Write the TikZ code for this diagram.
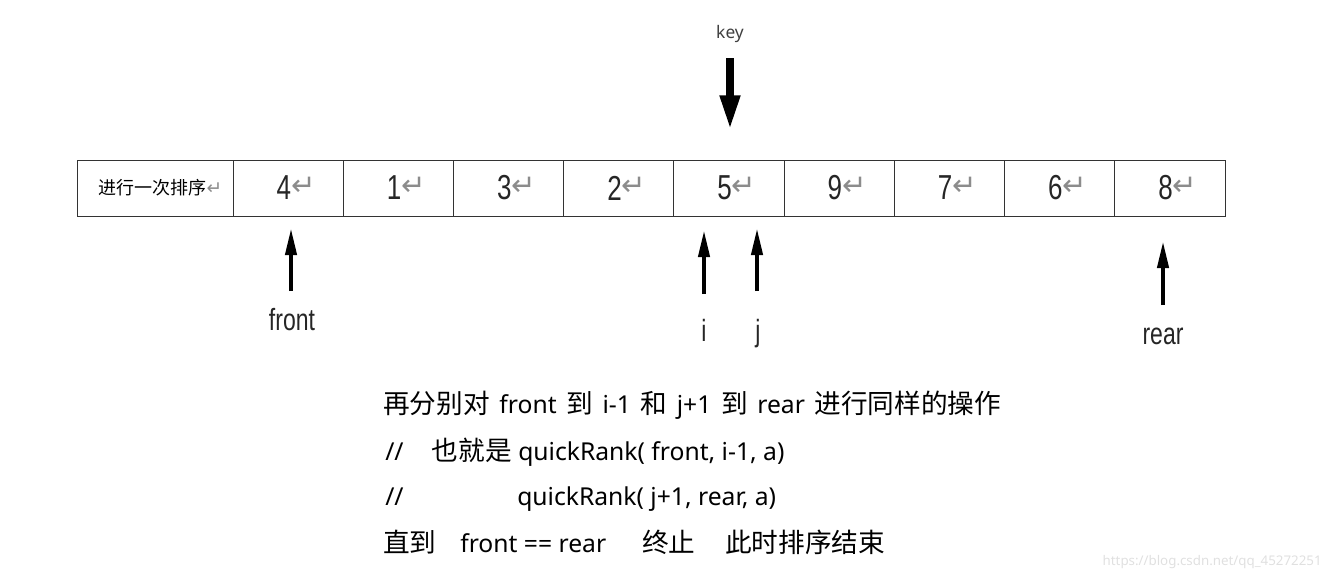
\documentclass[tikz,border=0pt]{standalone}
\usepackage{fontspec}
\setmainfont{Noto Sans}
\newfontfamily\cjk{Noto Sans CJK SC}[Scale=1.08]
\newfontfamily\narrowfont{Liberation Sans}
\newfontfamily\symfont{DejaVu Sans}
\usetikzlibrary{arrows.meta}

\newcommand{\pmark}[2]{\raisebox{#1}{\symfont\color{black!45}\fontsize{#2}{#2}\selectfont ↵}}
\newcommand{\narrow}[1]{\scalebox{0.75}[1]{\narrowfont #1}}

\tikzset{
	cell/.style={draw=black!80, line width=0.7pt, minimum width=82.65pt, minimum height=42pt, inner sep=0pt, font=\fontsize{26}{26}\selectfont},
	ptr/.style={line width=3.6pt, -{Triangle[length=21pt,width=8pt]}},
	keyptr/.style={line width=6pt, -{Triangle[length=26pt,width=14pt]}},
	lbl/.style={font=\fontsize{23}{23}\selectfont, text=black!85, inner sep=0pt},
	txt/.style={anchor=base west, inner sep=0pt, font=\fontsize{18.5}{18.5}\selectfont},
}

\begin{document}
\begin{tikzpicture}[x=0.75pt,y=-0.75pt]
\useasboundingbox (0,0) rectangle (1330,582);

\node[cell, minimum width=117pt, font=\fontsize{12.5}{12.5}\selectfont] (head) at (155,188) {\hspace{8pt}{\cjk 进行一次排序}\pmark{0pt}{14}};

\foreach \v [count=\i] in {4,1,3,2,5,9,7,6,8}
{
	\node[cell, text=black!85] (c\i) at ({233+110.22*(\i-0.5)},188) {\hspace{12pt}\narrow{\v}\pmark{3.5pt}{22}};
}

% key
\node[font=\fontsize{13}{13}\selectfont, text=black!75, inner sep=0pt] (key) at (730,34) {key};
\coordinate (keytop) at (730,58);
\coordinate (keytip) at (730,130);
\draw[keyptr] (keytop) -- (keytip);

% pointers
\coordinate (fbot) at (291,291);
\coordinate (ftip) at (291,227);
\coordinate (ibot) at (704,294);
\coordinate (itip) at (704,229);
\coordinate (jbot) at (757,291);
\coordinate (jtip) at (757,227);
\coordinate (rbot) at (1163,305);
\coordinate (rtip) at (1163,240);
\draw[ptr] (fbot) -- (ftip);
\draw[ptr] (ibot) -- (itip);
\draw[ptr] (jbot) -- (jtip);
\draw[ptr] (rbot) -- (rtip);

\node[lbl, anchor=base] (front) at (292,330) {\narrow{front}};
\node[lbl, anchor=base] (i) at (704,341) {\narrow{i}};
\node[lbl, anchor=base] (j) at (758,341) {\narrow{j}};
\node[lbl, anchor=base] (rear) at (1163,344) {\narrow{rear}};

\node[txt] (l1) at (383,413) {\spaceskip=0.39em\relax{\cjk 再分别对} front {\cjk 到} i-1 {\cjk 和} j+1 {\cjk 到} rear {\cjk 进行同样的操作}};
\node[txt] (l2) at (385,460) {\makebox[35pt][l]{//}{\cjk 也就是} quickRank( front, i-1, a)};
\node[txt] (l3) at (385,505) {\makebox[99pt][l]{//}quickRank( j+1, rear, a)};
\node[txt] (l4) at (383,552) {\makebox[57.75pt][l]{\cjk 直到}\makebox[136.5pt][l]{front == rear}\makebox[62.25pt][l]{\cjk 终止}{\cjk 此时排序结束}};

\node[anchor=east, inner sep=0pt, text=black!12, font=\fontsize{10}{10}\selectfont] (wm) at (1322,562) {https://blog.csdn.net/qq\_45272251};

\end{tikzpicture}
\end{document}
